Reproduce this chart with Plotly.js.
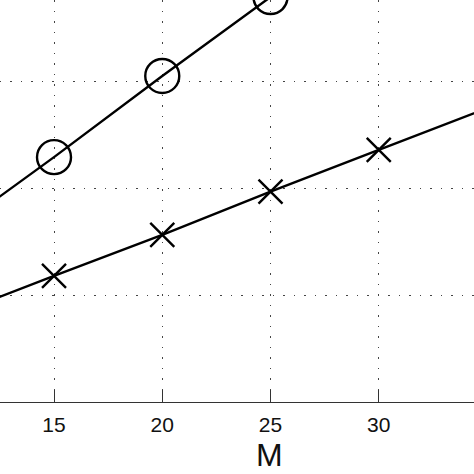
<!DOCTYPE html>
<html>
<head>
<meta charset="utf-8">
<script src="https://cdn.plot.ly/plotly-3.0.1.min.js"></script>
<style>html,body{margin:0;padding:0;background:#fff;}#chart{width:474px;height:474px;}</style>
</head>
<body>
<div id="chart"></div>
<script>
const mValues = [10, 15, 20, 25, 30];
const circleSeries = [1.556, 2.292, 3.052, 3.791, 4.559];
const mValuesCross = [10, 15, 20, 25, 30, 35];
const crossSeries = [0.789, 1.181, 1.565, 1.970, 2.360, 2.750];
const xTicks = [15, 20, 25, 30];
const xTickLabels = ['15', '20', '25', '30'];
const yGrid = [0, 1, 2, 3];

const traces = [
  {
    x: mValues, y: circleSeries, type: 'scatter', mode: 'lines+markers',
    line: {color: '#000', width: 2.4},
    marker: {symbol: 'circle-open', size: 34, color: '#000', line: {color: '#000', width: 2.4}},
    cliponaxis: true, showlegend: false
  },
  {
    x: mValuesCross, y: crossSeries, type: 'scatter', mode: 'lines+markers',
    line: {color: '#000', width: 2.4},
    marker: {symbol: 'x-thin-open', size: 24, color: '#000', line: {color: '#000', width: 2.4}},
    cliponaxis: true, showlegend: false
  }
];

const layout = {
  width: 474, height: 474,
  margin: {l: 0, r: 0, t: 0, b: 72, pad: 0},
  paper_bgcolor: '#fff', plot_bgcolor: '#fff',
  font: {family: 'Liberation Sans, Arial, sans-serif', color: '#111'},
  xaxis: {
    range: [12.505, 34.40],
    tickvals: xTicks, ticktext: xTickLabels,
    ticks: 'inside', ticklen: 12, tickwidth: 1, tickcolor: '#333',
    showline: true, linecolor: '#333', linewidth: 1, mirror: false,
    showgrid: true, gridcolor: '#444', gridwidth: 1, griddash: '1.5px,9px',
    zeroline: false,
    tickfont: {size: 21, color: '#111'},
    ticklabelstandoff: 4
  },
  yaxis: {
    range: [0, 3.763],
    tickvals: yGrid, showticklabels: false, ticks: '',
    showgrid: true, gridcolor: '#444', gridwidth: 1, griddash: '1.5px,9px',
    zeroline: false, showline: false
  },
  annotations: [
    {text: 'M', xref: 'paper', yref: 'paper', x: 0.5696, y: -0.1306,
     xanchor: 'center', yanchor: 'middle', showarrow: false,
     font: {size: 32, color: '#111', family: 'Liberation Sans, Arial, sans-serif'}}
  ]
};

Plotly.newPlot('chart', traces, layout, {displayModeBar: false, staticPlot: true});
</script>
</body>
</html>
